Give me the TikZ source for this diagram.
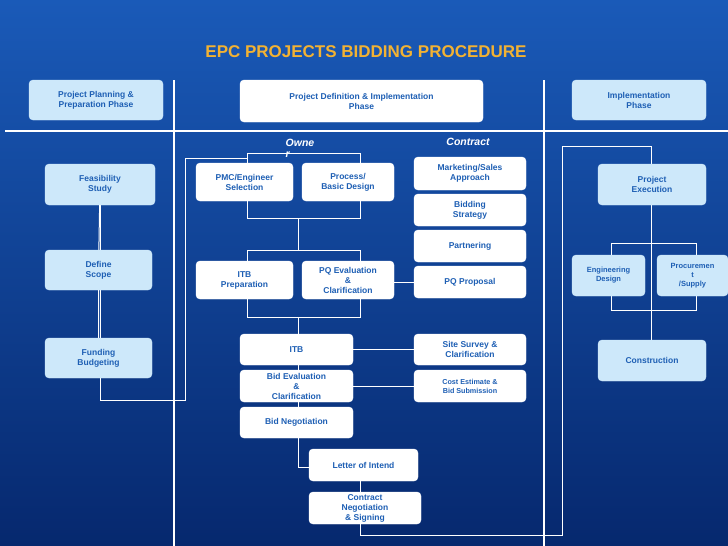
\documentclass[tikz,border=0pt]{standalone}
\usepackage{fontspec}
\setmainfont{Liberation Sans}
\usetikzlibrary{positioning}
\definecolor{bgtop}{HTML}{1A5AB8}
\definecolor{bgbot}{HTML}{06286E}
\definecolor{boxtext}{HTML}{1E5FB4}
\definecolor{lightbox}{HTML}{CDE8FA}
\definecolor{titlecol}{HTML}{F2B233}
\tikzset{
  wbox/.style={draw=white, fill=white, rounded corners=4pt, inner sep=0pt},
  lbox/.style={draw=lightbox, fill=lightbox, rounded corners=4pt, inner sep=0pt},
  btext/.style={text=boxtext, font=\bfseries\fontsize{8.5}{10}\selectfont, align=center, inner sep=0pt},
  link/.style={draw=white, line width=1pt},
  divider/.style={draw=white, line width=1.2pt},
}
% box by corners: name, x1, y1, x2, y2, style, text
\newcommand{\bx}[7]{%
  \node[#6, minimum width={#4-#2}, minimum height={#5-#3}] (#1) at ({(#2+#4)/2},{(#3+#5)/2}) {};
  \node[btext] (#1-t) at (#1) {#7};}
\begin{document}
\begin{tikzpicture}[x=1pt, y=-1pt]
\shade[top color=bgtop, bottom color=bgbot] (0,0) rectangle (728,546);
\useasboundingbox (0,0) rectangle (728,546);

\node[text=titlecol, font=\bfseries\fontsize{17}{20}\selectfont] (title) at (366,52) {EPC PROJECTS BIDDING PROCEDURE};

% dividers
\draw[divider] (5,131) -- (728,131);
\draw[divider] (174,80) -- (174,546);
\draw[divider] (544,80) -- (544,546);

% connectors (drawn first, boxes on top)
\coordinate (lcorner) at (100,400);
\coordinate (lcol) at (185,400);
\coordinate (ltop) at (185,158);
\draw[link] (100,185) -- (lcorner) -- (lcol) -- (ltop) -- (247,158);
\draw[link] (247,153) rectangle (360,218);
\draw[link] (298,218) -- (298,250);
\draw[link] (247,250) rectangle (360,317);
\draw[link] (298,317) -- (298,467) -- (330,467);
\draw[link] (360,465) -- (360,535) -- (562,535) -- (562,146) -- (651,146) -- (651,360);
\draw[link] (611,243) rectangle (696,310);

\bx{plan}{29}{80}{163}{120}{lbox}{Project Planning \&\\Preparation Phase}
\bx{define}{240}{80}{483}{122}{wbox}{Project Definition \& Implementation\\Phase}
\bx{impl}{572}{80}{706}{120}{lbox}{Implementation\\Phase}

\node[text=white, font=\bfseries\itshape\fontsize{10.5}{11}\selectfont, align=left] (owner) at (300,148) {Owne\\r};
\node[text=white, font=\bfseries\itshape\fontsize{10.5}{11}\selectfont] (contractor) at (468,142) {Contract};

\bx{feas}{45}{164}{155}{205}{lbox}{Feasibility\\Study}
\bx{scope}{45}{250}{152}{290}{lbox}{Define\\Scope}
\bx{fund}{45}{338}{152}{378}{lbox}{Funding\\Budgeting}
\draw[link] (feas) -- (scope) (scope) -- (fund);

\bx{pmc}{196}{163}{293}{201}{wbox}{PMC/Engineer\\Selection}
\bx{process}{302}{163}{394}{201}{wbox}{Process/\\Basic Design}
\bx{itbprep}{196}{261}{293}{299}{wbox}{ITB\\Preparation}
\bx{pqeval}{302}{261}{394}{299}{wbox}{PQ Evaluation\\\&\\Clarification}

\bx{market}{414}{157}{526}{190}{wbox}{Marketing/Sales\\Approach}
\bx{strategy}{414}{194}{526}{226}{wbox}{Bidding\\Strategy}
\bx{partner}{414}{230}{526}{262}{wbox}{Partnering}
\bx{pqprop}{414}{266}{526}{298}{wbox}{PQ Proposal}
\draw[link] (pqeval.east |- pqprop) -- (pqprop);

\bx{itb}{240}{334}{353}{365}{wbox}{ITB}
\bx{bideval}{240}{370}{353}{402}{wbox}{Bid Evaluation\\\&\\Clarification}
\bx{bidneg}{240}{407}{353}{438}{wbox}{Bid Negotiation}
\bx{loi}{309}{449}{418}{481}{wbox}{Letter of Intend}
\bx{contract}{309}{492}{421}{524}{wbox}{Contract\\Negotiation\\\& Signing}

\bx{survey}{414}{334}{526}{365}{wbox}{Site Survey \&\\Clarification}
\node[wbox, minimum width=112, minimum height=32] (cost) at (470,386) {};
\node[btext, font=\bfseries\fontsize{7.2}{9}\selectfont] (cost-t) at (cost) {Cost Estimate \&\\Bid Submission};
\draw[link] (itb) -- (survey);
\draw[link] (bideval) -- (cost);

\bx{exec}{598}{164}{706}{205}{lbox}{Project\\Execution}
\node[lbox, minimum width=73, minimum height=41] (eng) at (608.5,275.5) {};
\node[btext, font=\bfseries\fontsize{7.5}{9}\selectfont] (eng-t) at (eng) {Engineering\\Design};
\node[lbox, minimum width=71, minimum height=41] (proc) at (692.5,275.5) {};
\node[btext, font=\bfseries\fontsize{7.5}{9}\selectfont] (proc-t) at (proc) {Procuremen\\t\\/Supply};
\bx{constr}{598}{340}{706}{381}{lbox}{Construction}
\end{tikzpicture}
\end{document}
